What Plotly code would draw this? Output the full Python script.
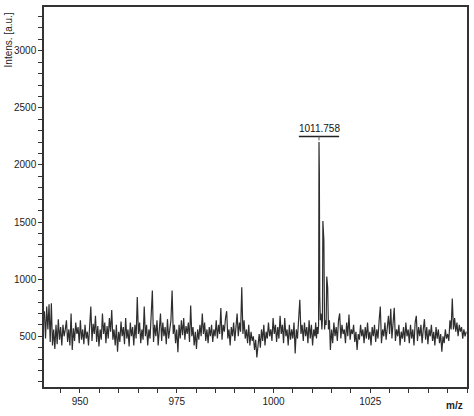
import plotly.graph_objects as go

# ---- data ----
# noise before the isotope cluster, sampled every 0.3 m/z starting at 940.8
mz_start_a = 940.8
intens_a = [
    720, 480, 760, 560, 780, 450, 790, 420, 560, 390, 600, 430, 650, 470, 580, 420, 600, 500, 560, 640,
    450, 560, 420, 700, 380, 570, 460, 620, 520, 580, 440, 640, 470, 560,
    430, 600, 480, 540, 420, 650, 760, 460, 610, 520, 680, 450, 590, 410, 560, 470, 700, 520, 620, 440,
    590, 480, 660, 540, 730, 470, 560, 420, 600, 365, 540, 450, 630, 500,
    580, 430, 660, 480, 560, 410, 620, 500, 580, 420, 600, 480, 843, 520, 620, 440, 560, 470, 760, 500,
    600, 420, 560, 480, 650, 900, 450, 600, 500, 640, 420, 580, 700,
    460, 620, 500, 580, 430, 650, 480, 560, 640, 900, 520, 600, 440, 560, 360, 600, 480, 640, 510, 660,
    470, 590, 520, 620, 450, 770, 500, 580, 420, 540, 390, 560, 470,
    600, 500, 700, 520, 620, 460, 560, 440, 580, 500, 600, 450, 560, 500, 640, 480, 600, 520, 747, 470,
    600, 540, 660, 720, 480, 560, 420, 580, 500, 620, 460, 560, 700, 500,
    620, 540, 930, 520, 640, 480, 560, 440, 600, 420, 540, 460, 500, 380, 470, 314, 440, 520, 400, 560,
    460, 600, 420, 540, 480, 620, 500, 560, 460, 660, 520, 600, 450,
    580, 480, 680, 520, 600, 440, 660, 500, 560, 420, 600, 470, 560, 480, 620, 350, 560, 480, 640, 820,
    520, 600, 460, 620, 500, 580, 440, 640, 480, 600, 420, 560, 500,
]
step = 0.3

# isotope cluster around the labelled peak
mz_peak = [1010.9, 1011.1, 1011.3, 1011.5, 1011.65, 1011.758, 1011.85, 1011.95, 1012.1, 1012.3,
           1012.5, 1012.65, 1012.76, 1013.02, 1013.2, 1013.4, 1013.6, 1013.76, 1014.0, 1014.2,
           1014.45, 1014.7]
intens_peak = [620, 480, 580, 520, 600, 2200, 1920, 860, 640, 700,
               560, 650, 1510, 1336, 560, 640, 600, 1023, 927, 560,
               640, 380]

# noise after the cluster, sampled every 0.3 m/z starting at 1015.0
mz_start_b = 1015.0
intens_b = [
    560, 440, 620, 500, 580, 460, 640, 700, 480, 600, 520, 560, 440, 620, 500, 690, 470, 560, 520, 600,
    450, 540, 380, 520, 470, 600, 500, 560, 440, 580, 480, 620, 470, 540,
    420, 580, 500, 600, 450, 560, 480, 640, 760, 440, 560, 500, 620, 470, 560, 680, 520, 740, 480, 600,
    750, 460, 560, 500, 600, 420, 540, 480, 580, 450, 620, 500, 560,
    440, 600, 480, 560, 420, 620, 680, 460, 580, 500, 600, 440, 560, 650, 470, 580, 430, 560, 500, 600,
    460, 540, 420, 580, 480, 560, 440, 520, 365, 500, 440, 560, 480,
    520, 460, 640, 560, 830, 560, 660, 540, 620, 500, 600, 540, 580, 480, 560, 500, 540,
]

peak_label = "1011.758"
x_ticks = [950, 975, 1000, 1025]
y_ticks = [500, 1000, 1500, 2000, 2500, 3000]
x_range = [940.7, 1050.0]
y_range = [56, 3383]

# ---- assemble series ----
mz_a = [round(mz_start_a + step * i, 3) for i in range(len(intens_a))]
mz_b = [round(mz_start_b + step * i, 3) for i in range(len(intens_b))]
mz = mz_a + mz_peak + mz_b
intens = intens_a + intens_peak + intens_b

fig = go.Figure()
fig.add_trace(go.Scatter(x=mz, y=intens, mode="lines",
                         line=dict(color="#2e2e2e", width=1.2), hoverinfo="skip"))

# label of the main peak
pk = intens_peak.index(max(intens_peak))
pk_x = mz_peak[pk]
pk_y = intens_peak[pk]
bar_y = pk_y + 50
fig.add_shape(type="line", x0=pk_x - 5.2, x1=pk_x + 5.2, y0=bar_y, y1=bar_y,
              line=dict(color="#222222", width=1.5))
fig.add_shape(type="line", x0=pk_x, x1=pk_x, y0=bar_y, y1=pk_y + 15,
              line=dict(color="#555555", width=1))
fig.add_annotation(x=pk_x, y=bar_y, text=peak_label, showarrow=False, yanchor="bottom",
                   yshift=0, font=dict(family="Liberation Sans, Arial", size=10, color="#111111"))

axis_font = dict(family="Liberation Sans, Arial", size=10, color="#222222")
fig.update_xaxes(range=x_range, tickvals=x_ticks, ticks="outside", ticklen=4, tickwidth=1,
                 tickcolor="#333333", showline=True, linecolor="#333333", linewidth=1.5,
                 mirror=True, showgrid=False, zeroline=False, tickfont=axis_font,
                 minor=dict(dtick=5, tick0=950, ticks="outside", ticklen=4, tickcolor="#333333",
                            showgrid=False))
fig.update_yaxes(range=y_range, tickvals=y_ticks, ticks="outside", ticklen=4, tickwidth=1,
                 tickcolor="#333333", showline=True, linecolor="#333333", linewidth=1.5,
                 mirror=True, showgrid=False, zeroline=False, tickfont=axis_font,
                 minor=dict(dtick=100, tick0=0, ticks="outside", ticklen=4, tickcolor="#333333",
                            showgrid=False))

fig.add_annotation(xref="paper", yref="paper", x=-0.083, y=0.992, text="Intens. [a.u.]",
                   textangle=-90, showarrow=False, xanchor="center", yanchor="top",
                   font=dict(family="Liberation Sans, Arial", size=10, color="#222222"))
fig.add_annotation(xref="paper", yref="paper", x=0.97, y=-0.028, text="<b>m/z</b>",
                   showarrow=False, xanchor="center", yanchor="top",
                   font=dict(family="Liberation Sans, Arial", size=10, color="#222222"))

fig.update_layout(width=474, height=416, margin=dict(l=44, r=6, t=5, b=29),
                  paper_bgcolor="white", plot_bgcolor="white", showlegend=False)

fig.write_html("out.html", config={"displayModeBar": False},
               post_script="document.body.style.margin='0';")
